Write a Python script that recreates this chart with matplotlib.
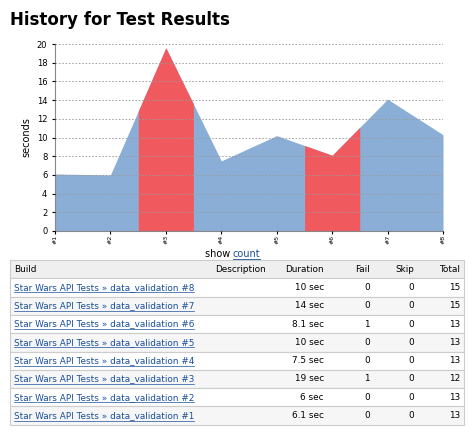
import matplotlib
matplotlib.use("Agg")
import matplotlib.pyplot as plt
import numpy as np
from matplotlib.patches import Rectangle

builds = ["#1", "#2", "#3", "#4", "#5", "#6", "#7", "#8"]
durations = [6.1, 6.0, 19.6, 7.5, 10.2, 8.1, 14.1, 10.3]
failed = [0, 0, 1, 0, 0, 1, 0, 0]
dur_text = ["6.1 sec", "6 sec", "19 sec", "7.5 sec", "10 sec", "8.1 sec", "14 sec", "10 sec"]
fails = [0, 0, 1, 0, 0, 1, 0, 0]
skips = [0, 0, 0, 0, 0, 0, 0, 0]
totals = [13, 13, 12, 13, 13, 13, 15, 15]

W, H = 474, 433
fig = plt.figure(figsize=(W/100, H/100), dpi=100)
fig.text(10/W, 1-20/H, "History for Test Results", fontsize=12, fontweight="bold", va="center", ha="left")

ax = fig.add_axes([55/W, 1-231/H, 388/W, 187/H])
x = np.arange(1, len(builds)+1)
xs = np.linspace(1, len(builds), 2000)
ys = np.interp(xs, x, durations)
blue = "#8aaed6"; red = "#f05a5e"
ax.fill_between(xs, 0, ys, color=blue, lw=0)
for i, f in enumerate(failed):
    if f:
        m = (xs >= x[i]-0.5) & (xs <= x[i]+0.5)
        ax.fill_between(xs[m], 0, ys[m], color=red, lw=0)
ax.set_xlim(1, len(builds)); ax.set_ylim(0, 20)
ax.set_yticks(range(0, 21, 2))
ax.yaxis.grid(True, color="#999999", ls=(0, (2, 2)), lw=0.6)
ax.set_axisbelow(False)
ax.set_xticks(x); ax.set_xticklabels(builds, rotation=90, fontsize=4.5)
ax.tick_params(axis="y", labelsize=6, length=2)
ax.tick_params(axis="x", length=2, pad=1)
ax.set_ylabel("seconds", fontsize=7)
for s in ["top", "right"]:
    ax.spines[s].set_visible(False)
for s in ["left", "bottom"]:
    ax.spines[s].set_color("#888888")

tb = fig.add_axes([0, 0, 1, 1]); tb.set_xlim(0, W); tb.set_ylim(H, 0); tb.axis("off")
link = "#1a4f9c"
tb.text(233, 254, "show ", ha="right", va="center", fontsize=7)
tb.text(233, 254, "count", ha="left", va="center", fontsize=7, color=link)
tb.plot([233, 260], [259, 259], color=link, lw=0.6)
top, rh = 260, 18.3
fs = 6.4
tb.add_patch(Rectangle((10, top), 454, rh, fc="#efefef", ec="#cccccc", lw=0.8))
hdr = [("Build", 14, "left"), ("Description", 266, "right"), ("Duration", 324, "right"),
       ("Fail", 370, "right"), ("Skip", 414, "right"), ("Total", 460, "right")]
for t, xx, ha in hdr:
    tb.text(xx, top+rh/2, t, ha=ha, va="center", fontsize=fs)
fig.canvas.draw()
r_ = fig.canvas.get_renderer()
for r, i in enumerate(range(len(builds)-1, -1, -1)):
    y0 = top + rh*(r+1)
    tb.add_patch(Rectangle((10, y0), 454, rh, fc="#f6f6f6" if r % 2 else "white", ec="#cccccc", lw=0.8))
    yc = y0 + rh/2
    t = tb.text(14, yc, f"Star Wars API Tests \u00bb data_validation {builds[i]}", ha="left", va="center",
                fontsize=fs, color=link)
    wpx = t.get_window_extent(r_).width
    tb.plot([14, 14 + wpx], [yc+5, yc+5], color=link, lw=0.5)
    tb.text(324, yc, dur_text[i], ha="right", va="center", fontsize=fs)
    tb.text(370, yc, str(fails[i]), ha="right", va="center", fontsize=fs)
    tb.text(414, yc, str(skips[i]), ha="right", va="center", fontsize=fs)
    tb.text(460, yc, str(totals[i]), ha="right", va="center", fontsize=fs)
fig.savefig("out.png", dpi=100)
